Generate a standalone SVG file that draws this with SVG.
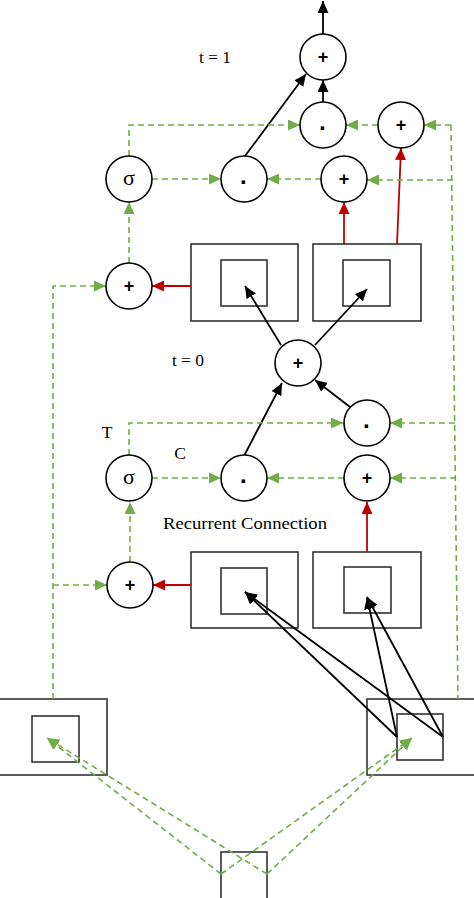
<svg xmlns="http://www.w3.org/2000/svg" width="474" height="898" viewBox="0 0 474 898">
<style>
.n{fill:#fff;stroke:#000;stroke-width:1.6}
.b{fill:none;stroke:#333;stroke-width:1.6}
.k{fill:none;stroke:#000;stroke-width:1.8}
.r{fill:none;stroke:#C00000;stroke-width:1.8}
.g{fill:none;stroke:#70AD47;stroke-width:1.6;stroke-dasharray:6 4}
.op{font-family:"Liberation Sans",Arial,sans-serif;font-size:18px;font-weight:bold;text-anchor:middle;dominant-baseline:central;fill:#000}
.dt{font-family:"Liberation Sans",Arial,sans-serif;font-size:24px;font-weight:bold;text-anchor:middle;dominant-baseline:central;fill:#000}
.sg{font-family:"Liberation Serif","Times New Roman",serif;font-size:22px;text-anchor:middle;fill:#000}
.lb{font-family:"Liberation Serif","Times New Roman",serif;font-size:17.5px;text-anchor:middle;dominant-baseline:central;fill:#000}
</style>
<defs>
<marker id="ak" markerUnits="userSpaceOnUse" markerWidth="13" markerHeight="11" refX="12" refY="5.5" orient="auto"><path d="M0,0 L12,5.5 L0,11 z" fill="#000"/></marker>
<marker id="ar" markerUnits="userSpaceOnUse" markerWidth="13" markerHeight="11" refX="12" refY="5.5" orient="auto"><path d="M0,0 L12,5.5 L0,11 z" fill="#C00000"/></marker>
<marker id="ag" markerUnits="userSpaceOnUse" markerWidth="13" markerHeight="11" refX="12" refY="5.5" orient="auto"><path d="M0,0 L12,5.5 L0,11 z" fill="#70AD47"/></marker>
</defs>
<g id="box1"><rect class="b" x="191" y="244" width="107" height="77"/><rect class="b" x="221" y="260" width="46" height="46"/></g>
<g id="box2"><rect class="b" x="313" y="244" width="108" height="77"/><rect class="b" x="343" y="260" width="47" height="46"/></g>
<g id="box3"><rect class="b" x="191" y="552" width="107" height="76"/><rect class="b" x="221" y="568" width="46" height="46"/></g>
<g id="box4"><rect class="b" x="313" y="552" width="108" height="76"/><rect class="b" x="344" y="567" width="47" height="46"/></g>
<g id="boxLeft"><rect class="b" x="-2" y="699" width="109" height="76"/><rect class="b" x="32" y="716" width="47" height="46"/></g>
<g id="boxRight"><rect class="b" x="367" y="699" width="110" height="76"/><rect class="b" x="397" y="714" width="46" height="46"/></g>
<g id="boxBottom"><rect class="b" x="221" y="852" width="46" height="50"/></g>
<g id="connectors">
<line class="k" x1="323" y1="34" x2="323" y2="1" marker-end="url(#ak)"/>
<line class="k" x1="323" y1="102" x2="323" y2="80" marker-end="url(#ak)"/>
<line class="k" x1="245" y1="156" x2="306" y2="74" marker-end="url(#ak)"/>
<line class="k" x1="281" y1="345" x2="245" y2="286" marker-end="url(#ak)"/>
<line class="k" x1="315" y1="345" x2="367" y2="289" marker-end="url(#ak)"/>
<line class="k" x1="350" y1="407" x2="315" y2="380" marker-end="url(#ak)"/>
<line class="k" x1="244" y1="456" x2="282" y2="383" marker-end="url(#ak)"/>
<line class="k" x1="397" y1="737" x2="245" y2="592" marker-end="url(#ak)"/>
<line class="k" x1="443" y1="737" x2="245" y2="592" marker-end="url(#ak)"/>
<line class="k" x1="397" y1="737" x2="367" y2="597" marker-end="url(#ak)"/>
<line class="k" x1="443" y1="737" x2="367" y2="597" marker-end="url(#ak)"/>
<line class="r" x1="191" y1="286" x2="152" y2="286" marker-end="url(#ar)"/>
<line class="r" x1="344" y1="244" x2="344" y2="202" marker-end="url(#ar)"/>
<line class="r" x1="397" y1="244" x2="401" y2="148" marker-end="url(#ar)"/>
<line class="r" x1="191" y1="585" x2="153" y2="585" marker-end="url(#ar)"/>
<line class="r" x1="367" y1="552" x2="367" y2="502" marker-end="url(#ar)"/>
<path class="g" d="M129,156 V125 H300" marker-end="url(#ag)"/>
<line class="g" x1="378" y1="125" x2="346" y2="125" marker-end="url(#ag)"/>
<line class="g" x1="451" y1="125" x2="424" y2="125" marker-end="url(#ag)"/>
<line class="g" x1="152" y1="179" x2="221" y2="179" marker-end="url(#ag)"/>
<line class="g" x1="321" y1="179" x2="267" y2="179" marker-end="url(#ag)"/>
<line class="g" x1="453" y1="180" x2="367" y2="180" marker-end="url(#ag)"/>
<line class="g" x1="129" y1="263" x2="129" y2="202" marker-end="url(#ag)"/>
<path class="g" d="M53,699 V286 H106" marker-end="url(#ag)"/>
<line class="g" x1="53" y1="585" x2="107" y2="585" marker-end="url(#ag)"/>
<line class="g" x1="451" y1="125" x2="458" y2="699"/>
<path class="g" d="M129,455 V423 H343" marker-end="url(#ag)"/>
<line class="g" x1="455" y1="423" x2="390" y2="423" marker-end="url(#ag)"/>
<line class="g" x1="130" y1="562" x2="130" y2="502" marker-end="url(#ag)"/>
<line class="g" x1="152" y1="478" x2="221" y2="478" marker-end="url(#ag)"/>
<line class="g" x1="344" y1="478" x2="267" y2="478" marker-end="url(#ag)"/>
<line class="g" x1="456" y1="478" x2="390" y2="478" marker-end="url(#ag)"/>
<line class="g" x1="221" y1="874" x2="47" y2="738" marker-end="url(#ag)"/>
<line class="g" x1="267" y1="874" x2="47" y2="738" marker-end="url(#ag)"/>
<line class="g" x1="221" y1="874" x2="412" y2="738" marker-end="url(#ag)"/>
<line class="g" x1="267" y1="874" x2="412" y2="738" marker-end="url(#ag)"/>
</g>
<g id="n_top_plus"><circle class="n" cx="323" cy="57" r="23"/><text class="op" x="323" y="57">+</text></g>
<g id="n_dot1"><circle class="n" cx="323" cy="125" r="23"/><text class="dt" x="323" y="127">·</text></g>
<g id="n_plus_r1"><circle class="n" cx="401" cy="125" r="23"/><text class="op" x="401" y="125">+</text></g>
<g id="n_sigma1"><circle class="n" cx="129" cy="179" r="23"/><text class="sg" x="129" y="185">σ</text></g>
<g id="n_dot2"><circle class="n" cx="244" cy="179" r="23"/><text class="dt" x="244" y="181">·</text></g>
<g id="n_plus2"><circle class="n" cx="344" cy="179" r="23"/><text class="op" x="344" y="179">+</text></g>
<g id="n_plus_l1"><circle class="n" cx="129" cy="286" r="23"/><text class="op" x="129" y="286">+</text></g>
<g id="n_plus_mid"><circle class="n" cx="298" cy="363" r="23"/><text class="op" x="298" y="363">+</text></g>
<g id="n_dot3"><circle class="n" cx="367" cy="423" r="23"/><text class="dt" x="367" y="425">·</text></g>
<g id="n_sigma2"><circle class="n" cx="129" cy="478" r="23"/><text class="sg" x="129" y="484">σ</text></g>
<g id="n_dot4"><circle class="n" cx="244" cy="478" r="23"/><text class="dt" x="244" y="480">·</text></g>
<g id="n_plus4"><circle class="n" cx="367" cy="478" r="23"/><text class="op" x="367" y="478">+</text></g>
<g id="n_plus_l2"><circle class="n" cx="130" cy="585" r="23"/><text class="op" x="130" y="585">+</text></g>
<g id="labels">
<text class="lb" x="215" y="57">t = 1</text>
<text class="lb" x="188" y="360">t = 0</text>
<text class="lb" x="107" y="432">T</text>
<text class="lb" x="180" y="453">C</text>
<text class="lb" x="245" y="523" textLength="164" lengthAdjust="spacingAndGlyphs">Recurrent Connection</text>
</g>
</svg>
